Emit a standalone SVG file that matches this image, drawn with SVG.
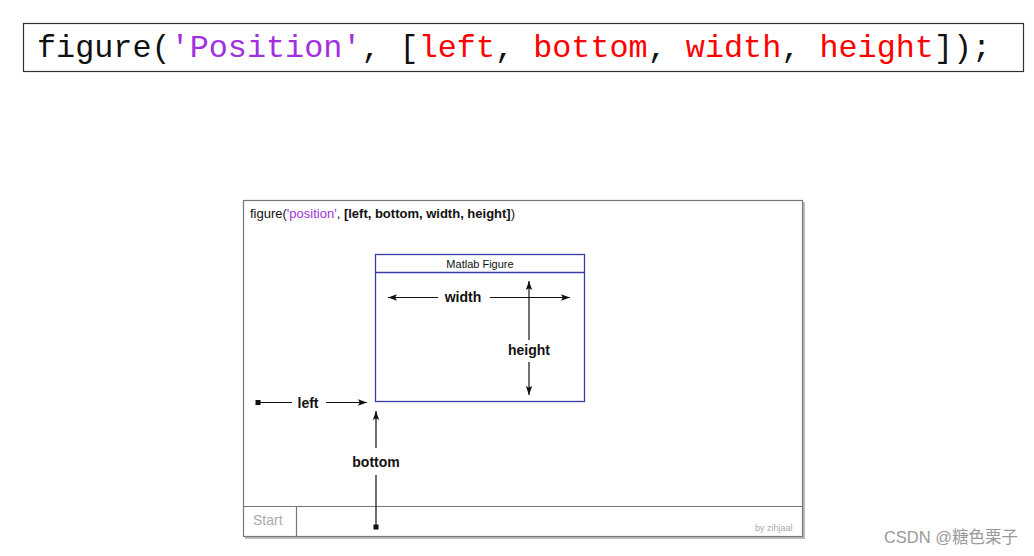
<svg xmlns="http://www.w3.org/2000/svg" width="1034" height="556" viewBox="0 0 1034 556">
<style>
.code{font-family:"Liberation Mono","Courier New",monospace;font-size:31.8px}
.lbl{font-family:"Liberation Sans",Arial,sans-serif;font-weight:bold;font-size:14px;fill:#111;text-anchor:middle}
.ln{stroke:#111;stroke-width:1.2;fill:none}
</style>
<defs>
<marker id="ah" viewBox="0 0 10 10" refX="10" refY="5" markerWidth="9" markerHeight="9" markerUnits="userSpaceOnUse" orient="auto"><path d="M0,1.5 L10,5 L0,8.5 L2,5 Z" fill="#111"/></marker>
</defs>
<rect width="1034" height="556" fill="#fff"/>
<g id="code">
<rect x="23.5" y="23.5" width="1000" height="48" fill="#fff" stroke="#333" stroke-width="1.2"/>
<text class="code" x="37" y="57"><tspan fill="#111">figure(</tspan><tspan fill="#a030e0">'Position'</tspan><tspan fill="#111">, [</tspan><tspan fill="#f00">left</tspan><tspan fill="#111">, </tspan><tspan fill="#f00">bottom</tspan><tspan fill="#111">, </tspan><tspan fill="#f00">width</tspan><tspan fill="#111">, </tspan><tspan fill="#f00">height</tspan><tspan fill="#111">]);</tspan></text>
</g>
<g id="screen">
<rect x="245" y="202" width="560" height="337" fill="#bbb"/>
<rect x="243.5" y="200.5" width="559" height="336" fill="#fff" stroke="#777" stroke-width="1.2"/>
<line x1="243.5" y1="506.5" x2="802.5" y2="506.5" stroke="#777" stroke-width="1.2"/>
<line x1="296.5" y1="506.5" x2="296.5" y2="536.5" stroke="#777" stroke-width="1.2"/>
<text x="253" y="525" font-family="Liberation Sans,Arial,sans-serif" font-size="14" fill="#aaa">Start</text>
<text x="755" y="531" font-family="Liberation Sans,Arial,sans-serif" font-size="9" fill="#aaa">by  zihjaal</text>
<text x="250" y="218" font-family="Liberation Sans,Arial,sans-serif" font-size="13" fill="#111">figure(<tspan fill="#a030e0">'position'</tspan>, <tspan font-weight="bold">[left, bottom, width, height]</tspan>)</text>
</g>
<g id="figure">
<rect x="375.5" y="254.5" width="209" height="147" fill="#fff" stroke="#3a3aa8" stroke-width="1.3"/>
<line x1="375.5" y1="272.5" x2="584.5" y2="272.5" stroke="#3a3aa8" stroke-width="1.3"/>
<text x="480" y="268" font-family="Liberation Sans,Arial,sans-serif" font-size="11" fill="#111" text-anchor="middle">Matlab Figure</text>
</g>
<g id="connectors">
<line class="ln" x1="438" y1="297.5" x2="388" y2="297.5" marker-end="url(#ah)"/>
<line class="ln" x1="490" y1="297.5" x2="570" y2="297.5" marker-end="url(#ah)"/>
<line class="ln" x1="529" y1="340" x2="529" y2="281" marker-end="url(#ah)"/>
<line class="ln" x1="529" y1="362" x2="529" y2="395" marker-end="url(#ah)"/>
<rect x="255.5" y="400" width="5" height="5" fill="#111"/>
<line class="ln" x1="258" y1="402.5" x2="292" y2="402.5"/>
<line class="ln" x1="326" y1="402.5" x2="367" y2="402.5" marker-end="url(#ah)"/>
<rect x="373.5" y="524.5" width="5" height="5" fill="#111"/>
<line class="ln" x1="376" y1="527" x2="376" y2="475"/>
<line class="ln" x1="376" y1="448" x2="376" y2="411" marker-end="url(#ah)"/>
</g>
<g id="labels">
<text class="lbl" x="463" y="302">width</text>
<text class="lbl" x="529" y="355">height</text>
<text class="lbl" x="308" y="408">left</text>
<text class="lbl" x="376" y="467">bottom</text>
</g>
<text x="1018" y="543" font-family="Liberation Sans,'Noto Sans CJK SC',sans-serif" font-size="16.5" fill="#999" text-anchor="end">CSDN @糖色栗子</text>
</svg>
